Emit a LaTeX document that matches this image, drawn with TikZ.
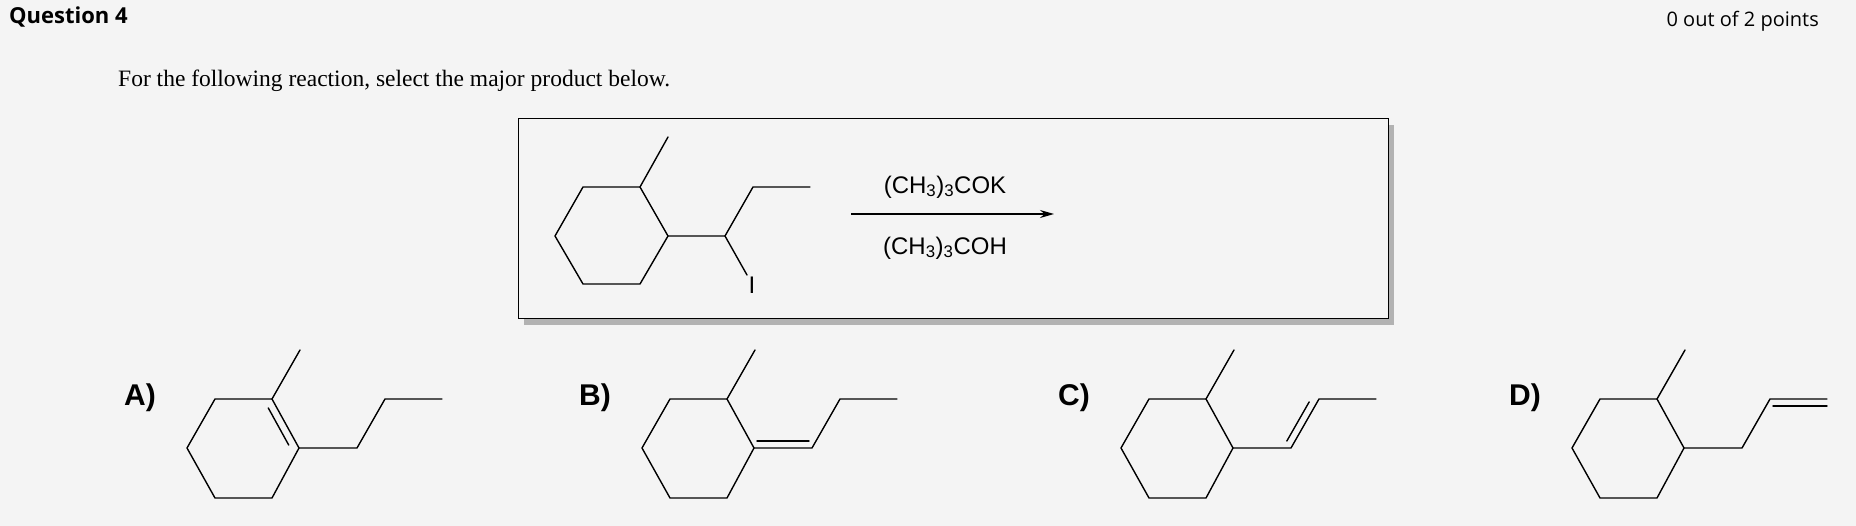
\documentclass[tikz,border=0pt]{standalone}
\usepackage{fontspec}
\setmainfont{Liberation Serif}
\newfontfamily\osans{Open Sans}
\newfontfamily\lsans{Liberation Sans}
\usetikzlibrary{arrows.meta,calc}
\begin{document}
\begin{tikzpicture}[x=1pt,y=-1pt,
  bond/.style={line width=1.4pt,line cap=round,line join=round},
  lbl/.style={font=\lsans\bfseries\fontsize{30}{30}\selectfont,inner sep=0},
  reag/.style={font=\lsans\fontsize{24}{24}\selectfont,inner sep=0}]
\fill[fill={rgb,255:red,244;green,244;blue,244}] (0,0) rectangle (1856,526);
\useasboundingbox (0,0) rectangle (1856,526);
\node[anchor=west,inner sep=0,font=\osans\bfseries\fontsize{22}{22}\selectfont] (q) at (9,17) {Question 4};
\node[anchor=east,inner sep=0,font=\osans\fontsize{20}{20}\selectfont] (pts) at (1819,21) {0 out of 2 points};
\node[anchor=west,inner sep=0,font=\fontsize{23.5}{23.5}\selectfont] (instr) at (118,81) {For the following reaction, select the major product below.};
% box with shadow
\fill[black!30] (524,125) rectangle (1394,325);
\node[draw,line width=1.4pt,fill={rgb,255:red,244;green,244;blue,244},minimum width=870pt,minimum height=200pt,inner sep=0,anchor=north west] (box) at (518,118) {};
% reactant
\coordinate (r1) at (583,187); \coordinate (r2) at (640,187); \coordinate (r3) at (668,236);
\coordinate (r4) at (640,284); \coordinate (r5) at (583,284); \coordinate (r6) at (555,236);
\coordinate (rm) at (668,137); \coordinate (rc1) at (725,236); \coordinate (rc2) at (753,187); \coordinate (rc3) at (810,187);
\coordinate (ri) at (747,275);
\draw[bond] (r1)--(r2)--(r3)--(r4)--(r5)--(r6)--cycle;
\draw[bond] (r2)--(rm); \draw[bond] (r3)--(rc1)--(rc2)--(rc3); \draw[bond] (rc1)--(ri);
\node[reag,anchor=north] (iod) at (752,277) {I};
\coordinate (a1) at (851,214); \coordinate (a2) at (1054,214);
\draw[line width=1.4pt,-{Stealth[length=14pt,width=8pt]}] (a1)--(a2);
\node[reag] (cok) at (945,187) {(CH\textsubscript{3})\textsubscript{3}COK};
\node[reag] (coh) at (945,248) {(CH\textsubscript{3})\textsubscript{3}COH};
% products
\foreach \s/\L in {0/A,455/B,934/C,1385/D}{
  \begin{scope}[xshift=\s pt]
  \coordinate (\L1) at (215,399); \coordinate (\L2) at (272,399); \coordinate (\L3) at (299,448);
  \coordinate (\L4) at (272,498); \coordinate (\L5) at (215,498); \coordinate (\L6) at (187,448);
  \coordinate (\L m) at (300,350); \coordinate (\L c1) at (357,448); \coordinate (\L c2) at (385,399); \coordinate (\L c3) at (442,399);
  \draw[bond] (\L1)--(\L2)--(\L3)--(\L4)--(\L5)--(\L6)--cycle;
  \draw[bond] (\L2)--(\L m); \draw[bond] (\L3)--(\L c1)--(\L c2)--(\L c3);
  \node[lbl] (\L lab) at (140,398) {\L)};
  \end{scope}}
\draw[bond] ($(A2)!0.12!(A3)+(-7,3)$) -- ($(A2)!0.88!(A3)+(-7,3)$);
\draw[bond] ($(B3)+(3,-7)$) -- ($(Bc1)+(-3,-7)$);
\draw[bond] ($(Cc1)!0.1!(Cc2)+(-7,-2)$) -- ($(Cc1)!0.9!(Cc2)+(-7,-2)$);
\draw[bond] ($(Dc2)+(3,7)$) -- ($(Dc3)+(0,7)$);
\end{tikzpicture}
\end{document}
